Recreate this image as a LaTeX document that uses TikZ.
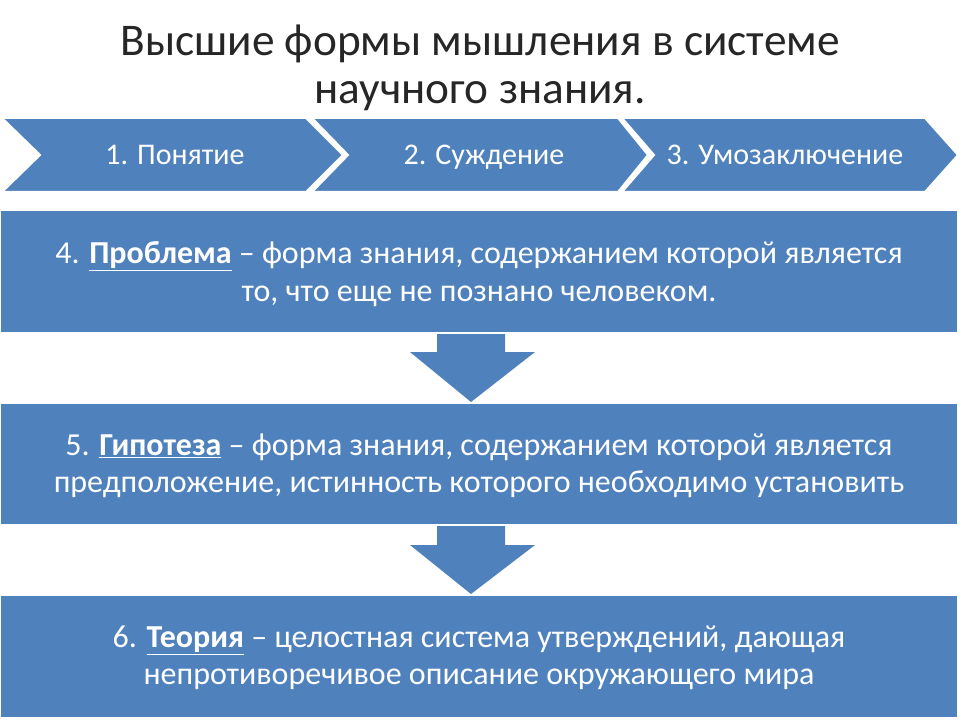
\documentclass[tikz,border=0pt]{standalone}
\usepackage{fontspec}
\setmainfont{Carlito}
\usetikzlibrary{positioning}
\definecolor{officeblue}{HTML}{4F81BD}
\tikzset{
  chev/.style={fill=officeblue, draw=white, line width=1.5pt},
  infobox/.style={fill=officeblue, draw=white, line width=1pt},
  downarrow/.style={fill=officeblue},
  chevtext/.style={text=white, anchor=base, font=\fontsize{22.5}{26}\selectfont},
  boxtext/.style={text=white, align=center, font=\fontsize{24}{28}\selectfont}
}
\begin{document}
\begin{tikzpicture}[x=0.75pt, y=-0.75pt]
\useasboundingbox (0,0) rectangle (960,720);

% title
\node[align=center, font=\fontsize{34}{36}\selectfont, text=black!85] (title) at (480,68)
  {Высшие формы мышления в системе\\научного знания.};

% chevrons
\draw[chev] (2,118) -- (306,118) -- (343,155) -- (306,192) -- (2,192) -- (40,155) -- cycle;
\draw[chev] (312,118) -- (618,118) -- (648,155) -- (618,192) -- (312,192) -- (348,155) -- cycle;
\draw[chev] (622,118) -- (925,118) -- (958,155) -- (925,192) -- (622,192) -- (654,155) -- cycle;
\node[chevtext] (c1) at (175,165) {1. Понятие};
\node[chevtext] (c2) at (484,165) {2. Суждение};
\node[chevtext] (c3) at (785,165) {3. Умозаключение};

% arrows between boxes
\fill[downarrow] (437,330) -- (505,330) -- (505,352) -- (535,352) -- (471,402)
  -- (410,352) -- (437,352) -- cycle;
\fill[downarrow] (437,522) -- (505,522) -- (505,545) -- (535,545) -- (471,594)
  -- (410,545) -- (437,545) -- cycle;

% boxes
\draw[infobox] (0,210) rectangle (958,333);
\node[boxtext] (problem) at (479,274)
  {4. \underline{\textbf{Проблема}} -- форма знания, содержанием которой является\\то, что еще не познано человеком.};
\draw[infobox] (0,403) rectangle (958,525);
\node[boxtext] (hypo) at (479,466)
  {5. \underline{\textbf{Гипотеза}} -- форма знания, содержанием которой является\\предположение, истинность которого необходимо установить};
\draw[infobox] (0,595) rectangle (958,718);
\node[boxtext] (theory) at (479,658)
  {6. \underline{\textbf{Теория}} -- целостная система утверждений, дающая\\непротиворечивое описание окружающего мира};
\end{tikzpicture}
\end{document}
